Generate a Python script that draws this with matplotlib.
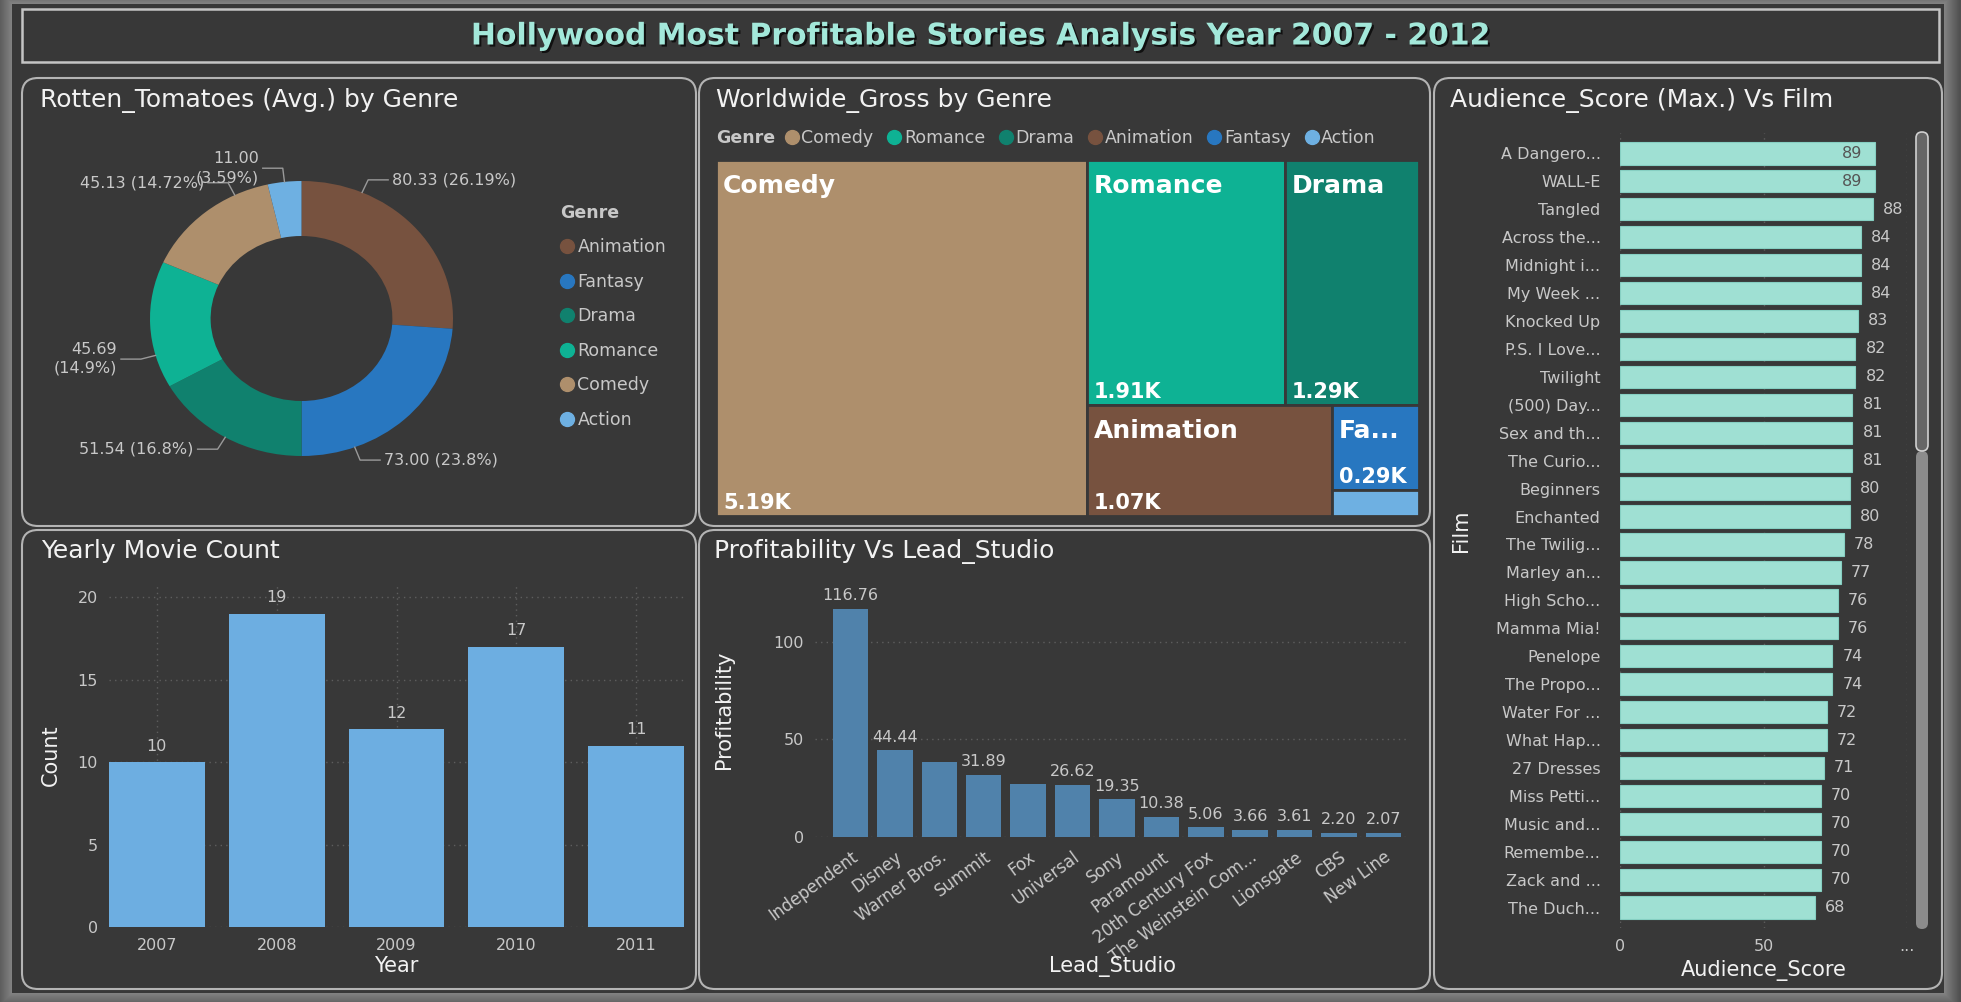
import numpy as np
import matplotlib.pyplot as plt
import matplotlib.patheffects as pe
from matplotlib.patches import FancyBboxPatch, Rectangle
from matplotlib.lines import Line2D

W, H = 1961, 1002
BG = '#383838'
GRID = '#5e5e5e'
TICK = '#c8c8c8'
WHITE = '#f2f2f2'

donut_genres = ['Animation', 'Fantasy', 'Drama', 'Romance', 'Comedy', 'Action']
rotten_avg = [80.33, 73.00, 51.54, 45.69, 45.13, 11.00]
rotten_pct = ['26.19', '23.8', '16.8', '14.9', '14.72', '3.59']
label_sep = [' ', ' ', ' ', '\n', ' ', '\n']
label_at = [0.25, 0.76, 0.5, 0.26, 0.75, 0.5]   # where on the slice the leader starts

tree_genres = ['Comedy', 'Romance', 'Drama', 'Animation', 'Fantasy', 'Action']
gross_k = [5.19, 1.91, 1.29, 1.07, 0.29, 0.09]

years = ['2007', '2008', '2009', '2010', '2011']
movie_count = [10, 19, 12, 17, 11]

studios = ['Independent', 'Disney', 'Warner Bros.', 'Summit', 'Fox', 'Universal', 'Sony',
           'Paramount', '20th Century Fox', 'The Weinstein Com...', 'Lionsgate', 'CBS', 'New Line']
profit = [116.76, 44.44, 38.6, 31.89, 27.3, 26.62, 19.35, 10.38, 5.06, 3.66, 3.61, 2.20, 2.07]
profit_labelled = [True, True, False, True, False, True, True, True, True, True, True, True, True]

films = ['A Dangero...', 'WALL-E', 'Tangled', 'Across the...', 'Midnight i...', 'My Week ...',
         'Knocked Up', 'P.S. I Love...', 'Twilight', '(500) Day...', 'Sex and th...',
         'The Curio...', 'Beginners', 'Enchanted', 'The Twilig...', 'Marley an...',
         'High Scho...', 'Mamma Mia!', 'Penelope', 'The Propo...', 'Water For ...',
         'What Hap...', '27 Dresses', 'Miss Petti...', 'Music and...', 'Remembe...',
         'Zack and ...', 'The Duch...']
audience = [89, 89, 88, 84, 84, 84, 83, 82, 82, 81, 81, 81, 80, 80, 78, 77, 76, 76,
            74, 74, 72, 72, 71, 70, 70, 70, 70, 68]

genre_colors = {'Animation': '#77523f', 'Fantasy': '#2877c0', 'Drama': '#10816e',
                'Romance': '#0eb294', 'Comedy': '#ae8f6c', 'Action': '#6eb0e2'}

fig = plt.figure(figsize=(W / 100, H / 100), dpi=100)
fig.patch.set_facecolor(BG)


def px_axes(x0, y0, x1, y1, **kw):
    ax = fig.add_axes([x0 / W, 1 - y1 / H, (x1 - x0) / W, (y1 - y0) / H], **kw)
    ax.set_facecolor('none')
    return ax


def fpt(x, y):
    return (x / W, 1 - y / H)


# background with light glow around the dark dashboard
bg = fig.add_axes([0, 0, 1, 1], zorder=-10)
yy, xx = np.mgrid[0:H, 0:W]
d = np.maximum.reduce([12 - xx, xx - 1943, 4 - yy, yy - 992, np.zeros_like(xx)])
shade = np.where(d > 0, 0.52 - 0.2 * np.clip(d / 16, 0, 1), 0x38 / 255)
bg.imshow(np.dstack([shade] * 3), extent=(0, W, H, 0), aspect='auto', interpolation='bilinear')
bg.set_xlim(0, W)
bg.set_ylim(H, 0)
bg.axis('off')

bg.add_patch(Rectangle((22, 9), 1917, 53, fc=BG, ec='#c4c4c4', lw=1.8))
fig.text(0.5, 1 - 36 / H, 'Hollywood Most Profitable Stories Analysis Year 2007 - 2012',
         ha='center', va='center', fontsize=21.5, fontweight='bold', color='#a3e8da',
         path_effects=[pe.withSimplePatchShadow(offset=(1.5, -1.5), shadow_rgbFace='black', alpha=0.7)])

panels = [(22, 78, 696, 526), (699, 78, 1430, 526), (1434, 78, 1942, 989),
          (22, 530, 696, 989), (699, 530, 1430, 989)]
for x0, y0, x1, y1 in panels:
    bg.add_patch(FancyBboxPatch((x0, y0), x1 - x0, y1 - y0,
                                boxstyle='round,pad=0,rounding_size=16',
                                fc=BG, ec='#b4b4b4', lw=1.5))

titles = [('Rotten_Tomatoes (Avg.) by Genre', 40, 107), ('Worldwide_Gross by Genre', 716, 107),
          ('Audience_Score (Max.) Vs Film', 1450, 107), ('Yearly Movie Count', 41, 558),
          ('Profitability Vs Lead_Studio', 714, 558)]
for txt, x, y in titles:
    fig.text(*fpt(x, y), txt, ha='left', va='baseline', fontsize=18, color=WHITE)

# ---- donut ----
ax_d = px_axes(150, 181, 453, 456)
wedges, _ = ax_d.pie(rotten_avg, colors=[genre_colors[g] for g in donut_genres], startangle=90,
                     counterclock=False, radius=1, wedgeprops=dict(width=0.4, edgecolor='none'))
ax_d.set_aspect('auto')
ax_d.set_xlim(-1, 1)
ax_d.set_ylim(-1, 1)
sx, sy = 303 / 2, 275 / 2
total = sum(rotten_avg)
cum = 0
for v, p, sep, f in zip(rotten_avg, rotten_pct, label_sep, label_at):
    th = np.radians(90 - 360 * (cum + f * v / total))
    cum += v / total
    x1, y1 = np.cos(th), np.sin(th)
    xe, ye = 1.1 * x1, 1.1 * y1
    side = 1 if x1 > 0 else -1
    xh = xe + side * 20 / sx
    ax_d.plot([x1, xe, xh], [y1, ye, ye], color='#9a9a9a', lw=1, clip_on=False)
    ha = 'left' if side > 0 else 'right'
    ax_d.text(xh + side * 4 / sx, ye, f'{v:.2f}{sep}({p}%)', ha=ha, va='center',
              multialignment=ha, fontsize=11.5, color=TICK, linespacing=1.3)
handles = [Line2D([], [], marker='o', ls='', ms=10, color=genre_colors[g]) for g in donut_genres]
leg = ax_d.legend(handles, donut_genres, loc='upper left', bbox_to_anchor=fpt(560, 204),
                  bbox_transform=fig.transFigure, title='Genre', alignment='left',
                  title_fontproperties={'weight': 'bold', 'size': 12.5}, fontsize=12.5,
                  labelcolor=TICK, labelspacing=0.95, handletextpad=0.2, handlelength=0.8,
                  frameon=False, borderpad=0, borderaxespad=0)
leg.get_title().set_color(TICK)


# ---- treemap ----
def squarify(vals, x, y, w, h):
    areas = [v / sum(vals) * w * h for v in vals]
    rects = []
    i = 0
    while i < len(areas):
        short = min(w, h)

        def worst(r):
            t = sum(r) / short
            return max(max(t * t / a, a / (t * t)) for a in r)
        row = [areas[i]]
        j = i + 1
        while j < len(areas) and worst(row + [areas[j]]) <= worst(row):
            row.append(areas[j])
            j += 1
        t = sum(row) / short
        off = 0
        for a in row:
            l = a / t
            rects.append((x, y + off, t, l) if w >= h else (x + off, y, l, t))
            off += l
        if w >= h:
            x, w = x + t, w - t
        else:
            y, h = y + t, h - t
        i = j
    return rects


ax_t = px_axes(716, 160, 1419, 516)
ax_t.set_xlim(0, 703)
ax_t.set_ylim(356, 0)
ax_t.axis('off')
renderer = fig.canvas.get_renderer()
for g, v, (x, y, w, h) in zip(tree_genres, gross_k, squarify(gross_k, 0, 0, 703, 356)):
    ax_t.add_patch(Rectangle((x, y), w, h, fc=genre_colors[g], ec=BG, lw=2))
    if h < 60:
        continue
    name = ax_t.text(x + 7, y + 33, g, fontsize=18, fontweight='bold', color='white', va='baseline')
    cut = len(g)
    while name.get_window_extent(renderer).width > w - 14 and cut > 1:
        cut -= 1
        name.set_text(g[:cut] + '...')
    ax_t.text(x + 7, y + h - 7, f'{v:.2f}K', fontsize=15, fontweight='bold', color='white',
              va='baseline')
fig.text(*fpt(716, 138), 'Genre', fontsize=12.5, fontweight='bold', color=TICK, va='center')
handles = [Line2D([], [], marker='o', ls='', ms=10, color=genre_colors[g]) for g in tree_genres]
ax_t.legend(handles, tree_genres, loc='center left', bbox_to_anchor=fpt(785, 138),
            bbox_transform=fig.transFigure, ncol=6, fontsize=12.5, labelcolor=TICK,
            handletextpad=0.15, handlelength=0.8, columnspacing=0.8, frameon=False,
            borderpad=0, borderaxespad=0)


def style(ax):
    for s in ax.spines.values():
        s.set_visible(False)
    ax.tick_params(length=0, colors=TICK, labelsize=11.5, pad=8)


# ---- yearly movie count ----
ax_y = px_axes(109, 583, 684, 927)
bars = ax_y.bar(years, movie_count, width=0.8, color='#6daee1', zorder=2)
ax_y.bar_label(bars, padding=6, color=TICK, fontsize=11.5)
ax_y.set_xlim(-0.4, 4.4)
ax_y.set_ylim(0, 20.85)
ax_y.set_yticks([0, 5, 10, 15, 20])
ax_y.grid(True, color=GRID, ls=(0, (1, 3)), lw=1)
ax_y.set_axisbelow(True)
style(ax_y)
ax_y.set_xlabel('Year', fontsize=15, color=WHITE, labelpad=2)
ax_y.set_ylabel('Count', fontsize=15, color=WHITE, labelpad=12)

# ---- profitability ----
ax_p = px_axes(815, 583, 1410, 837)
pbars = ax_p.bar(range(len(studios)), profit, width=0.8, color='#5082ab', zorder=2)
ax_p.bar_label(pbars, labels=[f'{v:.2f}' if s else '' for v, s in zip(profit, profit_labelled)],
               padding=4, color=TICK, fontsize=11.5)
ax_p.set_xlim(-0.8, 12.6)
ax_p.set_ylim(0, 130)
ax_p.set_yticks([0, 50, 100])
ax_p.set_xticks(range(len(studios)))
ax_p.set_xticklabels(studios, rotation=36, ha='right', rotation_mode='anchor')
ax_p.grid(True, axis='y', color=GRID, ls=(0, (1, 3)), lw=1)
ax_p.set_axisbelow(True)
style(ax_p)
ax_p.tick_params(axis='x', labelsize=12)
ax_p.set_xlabel('Lead_Studio', fontsize=15, color=WHITE)
ax_p.xaxis.set_label_coords(0.5, -0.47)
ax_p.set_ylabel('Profitability', fontsize=15, color=WHITE)
ax_p.yaxis.set_label_coords(-0.136, 0.5)

# ---- audience score ----
ax_a = px_axes(1620, 133, 1907, 928)
n = len(films)
ax_a.barh(range(n), audience, height=0.8, color='#9fe0d3', edgecolor='#86cfc2', lw=0.8, zorder=2)
ax_a.set_ylim(n - 1 + 0.73, -0.73)
ax_a.set_xlim(0, 100)
ax_a.set_yticks(range(n))
ax_a.set_yticklabels(films)
ax_a.set_xticks([0, 50, 100])
ax_a.set_xticklabels(['0', '50', '...'])
for i, v in enumerate(audience):
    if v + 11.5 > 100:
        ax_a.text(v - 4.5, i, str(v), ha='right', va='center', fontsize=11.5, color='#555555')
    else:
        ax_a.text(v + 3.5, i, str(v), ha='left', va='center', fontsize=11.5, color=TICK)
ax_a.grid(True, axis='x', color=GRID, ls=(0, (1, 3)), lw=1)
ax_a.set_axisbelow(True)
style(ax_a)
ax_a.tick_params(axis='y', pad=14)
ax_a.set_xlabel('Audience_Score', fontsize=15, color=WHITE, labelpad=4)
ax_a.set_ylabel('Film', fontsize=15, color=WHITE)
ax_a.yaxis.set_label_coords(-0.52, 0.5)

# scrollbar
bg.add_patch(FancyBboxPatch((1916, 451), 12, 478, boxstyle='round,pad=0,rounding_size=6',
                            fc='#8c8c8c', ec='none'))
bg.add_patch(FancyBboxPatch((1916, 132), 12, 319, boxstyle='round,pad=0,rounding_size=6',
                            fc='#666666', ec='#d0d0d0', lw=1.2))

fig.savefig('out.png', dpi=100, facecolor=fig.get_facecolor())
